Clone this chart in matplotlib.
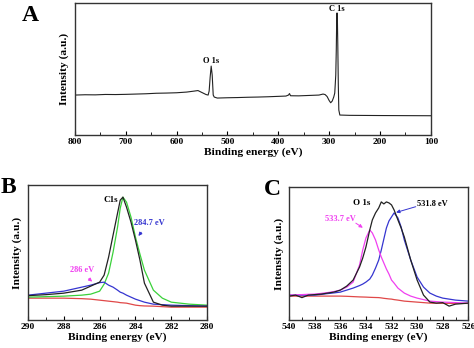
import matplotlib
matplotlib.use("Agg")
import matplotlib.pyplot as plt
from matplotlib.ticker import MultipleLocator

plt.rcParams["font.family"] = ["Liberation Serif", "DejaVu Serif"]
plt.rcParams["font.weight"] = "bold"
plt.rcParams["axes.labelweight"] = "bold"

# survey spectrum
survey_be = [800, 780, 760, 740, 720, 700, 680, 660, 640, 620, 600, 580, 565, 558,
             550, 542, 538, 536, 534, 532, 530, 528, 526, 520, 500, 480, 460, 440,
             420, 400, 385, 380, 378, 376, 360, 340, 320, 312, 308, 304, 300, 297,
             294, 291, 289, 287, 286, 285, 284, 283, 282, 281, 279, 260, 200, 150, 100]
survey_int = [40, 40.3, 40.2, 40.6, 40.5, 40.7, 41, 41.3, 41.8, 42, 42.3, 43, 44, 44.5,
              42.5, 40.5, 40, 44, 58, 69, 60, 40, 38, 37, 37.3, 37.5, 37.8, 38,
              38.3, 38.7, 39, 40, 41.5, 39.3, 39.2, 39.6, 40, 41, 40.5, 38.5, 34.5, 32.3,
              34, 38, 42, 60, 85, 122, 122, 90, 50, 25, 20, 19.7, 19.5, 19.4, 19.3]

# C 1s high resolution
c1s_be = [290, 289, 288, 287, 286.5, 286, 285.75, 285.5, 285.25, 285, 284.85, 284.7,
          284.5, 284.25, 284, 283.75, 283.5, 283, 282.5, 282, 281, 280]
c1s_raw = [24.5, 25.5, 27, 30, 34, 38, 45, 63, 85, 107, 120, 123,
           113, 98, 80, 60, 37, 18, 15, 14, 14, 14]
c1s_sp2 = [23, 23.5, 24, 25, 26, 29, 36, 47, 68, 93, 112, 123,
           118, 103, 83, 66, 50, 30, 22, 18, 16, 15]
c1s_co = [25, 27, 29, 33, 35, 37.5, 38, 35, 33, 30, 28, 27,
          25, 23, 21, 19.5, 18, 16, 15.5, 15, 14.5, 14]
c1s_bg = [22, 22, 22, 21.5, 21, 20, 19.5, 19, 18.5, 18, 17.5, 17.3,
          17, 16, 15, 14.5, 14.2, 14, 13.5, 13, 13, 13]

# O 1s high resolution
o1s_be = [540, 539.5, 539, 538.5, 538, 537.5, 537, 536.5, 536, 535.5, 535, 534.5,
          534.25, 534, 533.7, 533.5, 533.25, 533, 532.8, 532.6, 532.4, 532.2, 532,
          531.8, 531.5, 531.25, 531, 530.5, 530, 529.5, 529, 528.5, 528, 527.5, 527,
          526.5, 526]
o1s_raw = [24, 25, 22.5, 25, 25.5, 26, 27, 28, 30, 34, 40, 53,
           62, 73, 90, 100, 107, 112, 118, 116, 118, 117, 115,
           110, 100, 92, 83, 60, 40, 25, 18, 17, 17.5, 14, 16,
           16.5, 17]
o1s_oh = [25, 25.2, 25.5, 25.8, 26, 26.7, 27.5, 28.5, 30, 33, 38, 55,
          70, 82, 90, 87, 80, 70, 63, 57, 51, 46, 40,
          37, 32, 29.5, 27, 24, 22, 20.5, 19, 18.5, 18, 17.8, 17.5,
          17.2, 17]
o1s_co = [25, 25, 25, 25, 25, 25.7, 26.5, 27.2, 28, 30, 32, 34.5,
          36, 38, 41, 45, 52, 60, 70, 81, 92, 99, 103,
          107, 102, 93, 80, 60, 43, 33, 27, 24, 22, 21, 20,
          19.5, 19]
o1s_bg = [24, 24, 24, 24, 24, 24, 24, 24, 24, 23.8, 23.5, 23.2,
          23.1, 23, 22.8, 22.7, 22.6, 22.5, 22.2, 21.8, 21.5, 21.2, 21,
          20.5, 20, 19.5, 19, 18.5, 18, 17.5, 17, 16.9, 16.8, 16.8, 16.7,
          16.7, 16.7]

GREEN = "#3ad13a"
BLUE = "#3535d0"
RED = "#e04848"
MAGENTA = "#f040f0"


def style_axes(ax, major, minor, fs=6.8):
    ax.set_yticks([])
    ax.xaxis.set_major_locator(MultipleLocator(major))
    ax.xaxis.set_minor_locator(MultipleLocator(minor))
    ax.tick_params(axis="x", which="both", direction="in", top=False, labelsize=fs, pad=2)
    ax.tick_params(axis="x", which="major", length=3, width=0.8)
    ax.tick_params(axis="x", which="minor", length=2, width=0.6)
    for s in ax.spines.values():
        s.set_linewidth(1.0)
        s.set_color("#333333")
    ax.set_xlabel("Binding energy (eV)", fontsize=8.2, labelpad=1)
    ax.set_ylabel("Intensity (a.u.)", fontsize=8.2, labelpad=4)


fig = plt.figure(figsize=(4.74, 3.48), dpi=100)

# panel A
axA = fig.add_axes([0.158, 0.612, 0.751, 0.379])
axA.plot(survey_be, survey_int, color="#222222", lw=0.8)
axA.set_xlim(800, 100)
axA.set_ylim(0, 132)
style_axes(axA, 100, 50)
axA.text(533, 74, "O 1s", fontsize=6, ha="center", va="center")
axA.text(285.5, 126, "C 1s", fontsize=6, ha="center", va="center")
fig.text(0.046, 0.955, "A", fontsize=17, fontweight="bold", ha="left", va="center")

# panel B
axB = fig.add_axes([0.059, 0.080, 0.378, 0.388])
axB.plot(c1s_be, c1s_bg, color=RED, lw=0.9)
axB.plot(c1s_be, c1s_sp2, color=GREEN, lw=0.9)
axB.plot(c1s_be, c1s_co, color=BLUE, lw=0.9)
axB.plot(c1s_be, c1s_raw, color="#222222", lw=0.9)
axB.set_xlim(290, 280)
axB.set_ylim(0, 135)
style_axes(axB, 2, 1)
axB.text(285.35, 120, "C1s", fontsize=6.5, ha="center", va="center")
axB.text(283.2, 97, "284.7 eV", fontsize=6, color=BLUE, ha="center", va="center")
axB.annotate("", xy=(283.93, 82), xytext=(283.58, 90),
             arrowprops=dict(arrowstyle="-|>", color=BLUE, lw=0.7, mutation_scale=5))
axB.text(287.0, 50, "286 eV", fontsize=6, color=MAGENTA, ha="center", va="center")
axB.annotate("", xy=(286.3, 36.7), xytext=(286.72, 43.3),
             arrowprops=dict(arrowstyle="-|>", color=MAGENTA, lw=0.7, mutation_scale=5))
fig.text(0.002, 0.46, "B", fontsize=17, fontweight="bold", ha="left", va="center")

# panel C
axC = fig.add_axes([0.610, 0.080, 0.378, 0.383])
axC.plot(o1s_be, o1s_bg, color=RED, lw=0.9)
axC.plot(o1s_be, o1s_co, color=BLUE, lw=0.9)
axC.plot(o1s_be, o1s_oh, color=MAGENTA, lw=0.9)
axC.plot(o1s_be, o1s_raw, color="#222222", lw=0.9)
axC.set_xlim(540, 526)
axC.set_ylim(0, 133)
style_axes(axC, 2, 1)
axC.text(534.3, 117, "O 1s", fontsize=6.5, ha="center", va="center")
axC.text(528.85, 116, "531.8 eV", fontsize=6, ha="center", va="center")
axC.annotate("", xy=(531.85, 106.7), xytext=(529.9, 114),
             arrowprops=dict(arrowstyle="-|>", color=BLUE, lw=0.7, mutation_scale=5))
axC.text(536.0, 100.7, "533.7 eV", fontsize=6, color=MAGENTA, ha="center", va="center")
axC.annotate("", xy=(534.06, 90.7), xytext=(534.97, 98.3),
             arrowprops=dict(arrowstyle="-|>", color=MAGENTA, lw=0.7, mutation_scale=5))
fig.text(0.557, 0.455, "C", fontsize=17, fontweight="bold", ha="left", va="center")

fig.savefig("out.png", dpi=100)
